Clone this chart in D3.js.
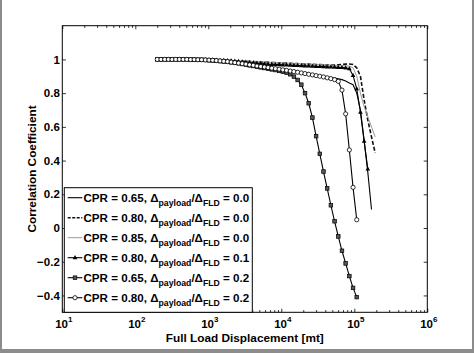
<!DOCTYPE html>
<html>
<head>
<meta charset="utf-8">
<script src="https://cdn.jsdelivr.net/npm/d3@7"></script>
<style>
  body { margin: 0; background: #fff; }
  svg { display: block; font-family: "Liberation Sans", Arial, sans-serif; font-weight: bold; }
</style>
</head>
<body>
<svg width="474" height="353"></svg>
<script>
// full load displacement [mt], shared sample grid
var displacement = [200, 225, 253, 284, 319, 358, 402, 452, 508, 571,
  641, 720, 810, 910, 1022, 1148, 1290, 1450, 1629, 1830,
  2056, 2310, 2596, 2917, 3277, 3681, 4137, 4648, 5222, 5867,
  6592, 7406, 8322, 9350, 10505, 11803, 13262, 14900, 16741, 18810,
  21135, 23747, 26681, 29978, 33682, 37844, 42521, 47775, 53679, 60312,
  67764, 76138, 85546, 96117, 108000, 121339, 136333, 153179, 172107, 193373];

var plateau = [1, 1, 1, 1, 1, 1, 1, 1, 1, 0.999, 0.999, 0.998, 0.998, 0.997];

var cpr065_00 = plateau.concat([0.997, 0.996, 0.995, 0.993, 0.991, 0.989, 0.987, 0.985, 0.982, 0.979,
  0.976, 0.973, 0.97, 0.966, 0.963, 0.96, 0.957, 0.954, 0.951, 0.948,
  0.945, 0.941, 0.937, 0.933, 0.929, 0.925, 0.921, 0.917, 0.913, 0.909,
  0.905, 0.901, 0.897, 0.893, 0.889, 0.885, 0.88, 0.872, 0.86,
  0.85, 0.80, 0.70, 0.52, 0.33, 0.11]);

var cpr080_00 = plateau.concat([0.999, 0.998, 0.997, 0.996, 0.995, 0.994, 0.993, 0.992, 0.991, 0.99,
  0.989, 0.988, 0.987, 0.986, 0.985, 0.984, 0.983, 0.982, 0.981, 0.98,
  0.979, 0.978, 0.977, 0.976, 0.975, 0.974, 0.973, 0.972, 0.971, 0.97,
  0.969, 0.968, 0.967, 0.967, 0.967, 0.968, 0.97, 0.972, 0.973,
  0.97, 0.95, 0.90, 0.76, 0.64, 0.54, 0.445]);

var cpr085_00 = plateau.concat([0.999, 0.998, 0.997, 0.996, 0.995, 0.994, 0.993, 0.992, 0.991, 0.99,
  0.989, 0.988, 0.987, 0.986, 0.985, 0.984, 0.983, 0.982, 0.981, 0.98,
  0.979, 0.978, 0.977, 0.976, 0.975, 0.974, 0.973, 0.972, 0.971, 0.97,
  0.969, 0.968, 0.967, 0.966, 0.965, 0.964, 0.963, 0.962, 0.96,
  0.95, 0.90, 0.80, 0.72, 0.66, 0.60, 0.54]);

var cpr080_01 = plateau.concat([0.998, 0.997, 0.996, 0.995, 0.994, 0.993, 0.992, 0.99, 0.988, 0.986,
  0.984, 0.982, 0.98, 0.978, 0.976, 0.974, 0.972, 0.971, 0.97, 0.969,
  0.968, 0.967, 0.966, 0.965, 0.964, 0.963, 0.962, 0.961, 0.96, 0.959,
  0.958, 0.957, 0.956, 0.955, 0.954, 0.953, 0.952, 0.95, 0.945,
  0.905, 0.826, 0.687, 0.515, 0.35]);

var cpr065_02 = plateau.concat([0.995, 0.994, 0.992, 0.99, 0.988, 0.986, 0.983, 0.98, 0.977, 0.973,
  0.969, 0.965, 0.961, 0.957, 0.953, 0.949, 0.945, 0.941, 0.937, 0.932,
  0.927, 0.921, 0.912, 0.898, 0.878, 0.85, 0.80, 0.74, 0.655, 0.545,
  0.44, 0.335, 0.235, 0.135, 0.04, -0.05, -0.135, -0.21, -0.285,
  -0.355, -0.41]);

var cpr080_02 = plateau.concat([0.996, 0.995, 0.993, 0.991, 0.989, 0.987, 0.984, 0.981, 0.978, 0.975,
  0.972, 0.968, 0.965, 0.961, 0.958, 0.955, 0.952, 0.948, 0.945, 0.942,
  0.938, 0.935, 0.931, 0.928, 0.924, 0.92, 0.916, 0.912, 0.908, 0.904,
  0.90, 0.896, 0.891, 0.886, 0.88, 0.87, 0.818, 0.677, 0.463,
  0.241, 0.049]);

var cprLabels = ["0.65", "0.80", "0.85", "0.80", "0.65", "0.80"];
var ratioLabels = ["0.0", "0.0", "0.0", "0.1", "0.2", "0.2"];
var xTicks = [1e1, 1e2, 1e3, 1e4, 1e5, 1e6];
var yTicks = [-0.4, -0.2, 0, 0.2, 0.4, 0.6, 0.8, 1];

var series = [
  {values: cpr065_00, color: "#000", width: 1.1, dash: null, marker: null},
  {values: cpr080_00, color: "#111", width: 1.6, dash: "4,2", marker: null},
  {values: cpr085_00, color: "#999", width: 1, dash: null, marker: null},
  {values: cpr080_01, color: "#000", width: 1.1, dash: null, marker: "triangle"},
  {values: cpr065_02, color: "#000", width: 1.1, dash: null, marker: "square"},
  {values: cpr080_02, color: "#000", width: 1.1, dash: null, marker: "circle"}
];

var svg = d3.select("svg");

// gray frame of the figure window
svg.append("rect").attr("x", 0).attr("y", 0).attr("width", 474).attr("height", 353).attr("fill", "#8c8c8c");
svg.append("rect").attr("x", 2).attr("y", 0).attr("width", 470).attr("height", 349).attr("fill", "#fff");

var pLeft = 62.3, pRight = 427.3, pTop = 25.7, pBottom = 312.3;

var x = d3.scaleLog().domain([10, 1e6]).range([pLeft, pRight]);
var y = d3.scaleLinear().domain([-0.5, 1.2]).range([pBottom, pTop]);

var minorTicks = [];
xTicks.slice(0, -1).forEach(function(t){ for (var k = 2; k < 10; k++) minorTicks.push(t * k); });

function drawMarker(g, type, cx, cy) {
  if (type == "triangle") {
    g.append("path")
      .attr("d", "M" + cx + "," + (cy - 2.6) + "L" + (cx + 2.3) + "," + (cy + 1.6) + "L" + (cx - 2.3) + "," + (cy + 1.6) + "Z")
      .attr("fill", "#000");
  } else if (type == "square") {
    g.append("rect").attr("x", cx - 1.8).attr("y", cy - 1.8).attr("width", 3.6).attr("height", 3.6)
      .attr("fill", "#555").attr("stroke", "#000").attr("stroke-width", 0.7);
  } else if (type == "circle") {
    g.append("circle").attr("cx", cx).attr("cy", cy).attr("r", 2.1)
      .attr("fill", "#fff").attr("stroke", "#000").attr("stroke-width", 0.8);
  }
}

// axes box with inward ticks
var gAx = svg.append("g");
gAx.append("g").attr("transform", "translate(0," + pBottom + ")")
  .call(d3.axisBottom(x).tickValues(xTicks).tickSize(-3.6).tickFormat(""));
gAx.append("g").attr("transform", "translate(0," + pBottom + ")")
  .call(d3.axisBottom(x).tickValues(minorTicks).tickSize(-2.2).tickFormat(""));
gAx.append("g").attr("transform", "translate(0," + pTop + ")")
  .call(d3.axisTop(x).tickValues(xTicks).tickSize(-3.6).tickFormat(""));
gAx.append("g").attr("transform", "translate(0," + pTop + ")")
  .call(d3.axisTop(x).tickValues(minorTicks).tickSize(-2.2).tickFormat(""));
gAx.append("g").attr("transform", "translate(" + pLeft + ",0)")
  .call(d3.axisLeft(y).tickValues(yTicks).tickSize(-3.6).tickFormat(""));
gAx.append("g").attr("transform", "translate(" + pRight + ",0)")
  .call(d3.axisRight(y).tickValues(yTicks).tickSize(-3.6).tickFormat(""));
gAx.selectAll(".domain").remove();
gAx.selectAll(".tick line").attr("stroke", "#000").attr("stroke-width", 0.8);

// curves
var line = d3.line()
  .x(function(d, i){ return x(displacement[i]); })
  .y(function(d){ return y(d); });

series.forEach(function(s){
  svg.append("path")
    .datum(s.values)
    .attr("d", line)
    .attr("fill", "none")
    .attr("stroke", s.color)
    .attr("stroke-width", s.width)
    .attr("stroke-dasharray", s.dash);
  if (s.marker) {
    var gm = svg.append("g");
    s.values.forEach(function(v, i){ drawMarker(gm, s.marker, x(displacement[i]), y(v)); });
  }
});

svg.append("rect").attr("x", pLeft).attr("y", pTop).attr("width", pRight - pLeft).attr("height", pBottom - pTop)
  .attr("fill", "none").attr("stroke", "#000").attr("stroke-width", 1);

// tick labels
svg.append("g").selectAll("text").data(yTicks).enter().append("text")
  .attr("x", pLeft - 2.5).attr("y", function(d){ return y(d); }).attr("dy", "0.36em")
  .attr("text-anchor", "end").attr("font-size", 11.5)
  .text(function(d){ return d == 0 ? "0" : d3.format("")(d); });

var xl = svg.append("g").selectAll("text").data(xTicks).enter().append("text")
  .attr("x", function(d){ return x(d) + 1.5; }).attr("y", 327.5)
  .attr("text-anchor", "middle").attr("font-size", 11.5);
xl.append("tspan").text("10");
xl.append("tspan").attr("dy", -5.5).attr("font-size", 8)
  .text(function(d){ return Math.round(Math.log10(d)); });

svg.append("text").attr("x", (pLeft + pRight) / 2).attr("y", 341.5)
  .attr("text-anchor", "middle").attr("font-size", 11.8)
  .text("Full Load Displacement [mt]");

svg.append("text").attr("transform", "translate(35.5," + y(0.35) + ") rotate(-90)")
  .attr("text-anchor", "middle").attr("font-size", 11.8)
  .text("Correlation Coefficient");

// legend
var lg = svg.append("g");
lg.append("rect").attr("x", 64.3).attr("y", 187.7).attr("width", 188).attr("height", pBottom - 187.7)
  .attr("fill", "#fff").attr("stroke", "#000").attr("stroke-width", 1);

series.forEach(function(s, i){
  var ry = 197.7 + i * 20;
  lg.append("line").attr("x1", 67.7).attr("x2", 82.3).attr("y1", ry).attr("y2", ry)
    .attr("stroke", s.color).attr("stroke-width", s.width).attr("stroke-dasharray", s.dash ? "3,1.5" : null);
  if (s.marker) drawMarker(lg, s.marker, 75, ry);
  var t = lg.append("text").attr("x", 83.5).attr("y", ry + 4.2).attr("font-size", 11.6);
  t.append("tspan").text("CPR = " + cprLabels[i] + ", \u0394");
  t.append("tspan").attr("dy", 4.5).attr("font-size", 8.7).text("payload");
  t.append("tspan").attr("dy", -4.5).text("/\u0394");
  t.append("tspan").attr("dy", 4.5).attr("font-size", 8.7).text("FLD");
  t.append("tspan").attr("dy", -4.5).text(" = " + ratioLabels[i]);
});
</script>
</body>
</html>
